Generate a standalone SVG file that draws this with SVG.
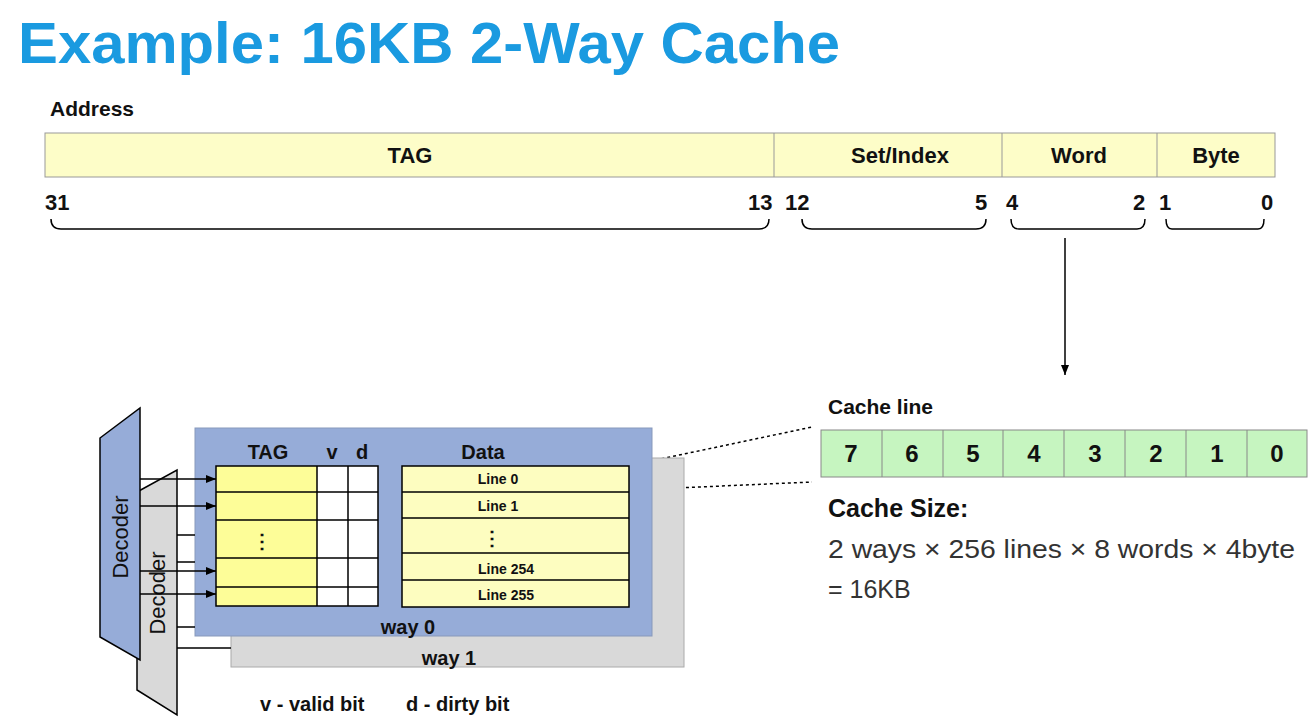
<svg xmlns="http://www.w3.org/2000/svg" width="1311" height="722" viewBox="0 0 1311 722">
<style>
text{font-family:"Liberation Sans",Arial,sans-serif;font-weight:bold;fill:#111}
.c{text-anchor:middle}
.ln{stroke:#000;stroke-width:1.5;fill:none}
.y{fill:#fdfdc8;stroke:#999;stroke-width:1}
</style>
<defs><marker id="a" viewBox="0 0 10 10" refX="10" refY="5" markerWidth="7" markerHeight="7" orient="auto"><path d="M0,1 L10,5 L0,9z" fill="#000"/></marker></defs>
<rect width="1311" height="722" fill="#fff"/>
<text x="18" y="63" font-size="58" textLength="822" lengthAdjust="spacingAndGlyphs" style="fill:#1a9ae0">Example: 16KB 2-Way Cache</text>
<g id="address">
<text x="50" y="116" font-size="21">Address</text>
<rect class="y" x="45" y="133" width="1230" height="44"/>
<path d="M774,133V177M1002,133V177M1157,133V177" stroke="#999"/>
<g font-size="22"><text class="c" x="410" y="163">TAG</text><text class="c" x="900" y="163">Set/Index</text><text class="c" x="1079" y="163">Word</text><text class="c" x="1216" y="163">Byte</text></g>
<g font-size="22"><text x="45" y="210">31</text><text x="748" y="210">13</text><text x="785" y="210">12</text><text x="975" y="210">5</text><text x="1006" y="210">4</text><text x="1133" y="210">2</text><text x="1159" y="210">1</text><text x="1261" y="210">0</text></g>
<path class="ln" stroke-width="1.2" d="M51,219q0,10 10,10H759q10,0 10,-10M802,219q0,10 10,10H976q10,0 10,-10M1011,219q0,10 8,10H1137q8,0 8,-10M1166,219q0,10 6,10H1258q6,0 6,-10"/>
</g>
<g id="connectors">
<line class="ln" x1="1065" y1="238" x2="1065" y2="375" marker-end="url(#a)"/>
<path d="M632,465L812,427M632,490L812,482" stroke="#000" stroke-width="1.5" stroke-dasharray="3,3"/>
</g>
<g id="way1"><rect x="231" y="458" width="453" height="209" fill="#d9d9d9" stroke="#aaa"/><text class="c" x="449" y="665" font-size="20">way 1</text></g>
<g id="decoder1"><polygon points="137,492 177,470 177,715 137,690" fill="#d9d9d9" stroke="#000" stroke-width="1.5"/><text transform="translate(165,593) rotate(-90)" class="c" font-size="22" style="font-weight:normal">Decoder</text></g>
<g id="way0">
<rect x="195" y="428" width="457" height="208" fill="#96acd8" stroke="#8899bb"/>
<text class="c" x="408" y="634" font-size="20">way 0</text>
<g font-size="20"><text class="c" x="268" y="459">TAG</text><text class="c" x="332" y="459">v</text><text class="c" x="362" y="459">d</text><text class="c" x="483" y="459">Data</text></g>
<rect x="216" y="466" width="101" height="140" fill="#fdfd98"/><rect x="317" y="466" width="61" height="140" fill="#fff"/>
<path class="ln" d="M216,466H378V606H216ZM317,466V606M348,466V606M216,492H378M216,520H378M216,558H378M216,587H378"/>
<text class="c" x="262" y="548" font-size="20">⋮</text>
<rect x="402" y="466" width="227" height="141" fill="#fdfdc0"/>
<path class="ln" d="M402,466H629V607H402ZM402,492H629M402,518H629M402,553H629M402,580H629"/>
<g font-size="14"><text class="c" x="498" y="484">Line 0</text><text class="c" x="498" y="511">Line 1</text><text class="c" x="492" y="545" font-size="20">⋮</text><text class="c" x="506" y="574">Line 254</text><text class="c" x="506" y="600">Line 255</text></g>
</g>
<g id="decoder0"><polygon points="100,438 140,408 140,660 100,637" fill="#96acd8" stroke="#000" stroke-width="1.5"/><text transform="translate(128,537) rotate(-90)" class="c" font-size="22" style="font-weight:normal">Decoder</text></g>
<g id="decoder-lines" stroke="#000" stroke-width="1.5">
<line x1="140" y1="479" x2="216" y2="479" marker-end="url(#a)"/><line x1="140" y1="506" x2="216" y2="506" marker-end="url(#a)"/>
<line x1="140" y1="571" x2="216" y2="571" marker-end="url(#a)"/><line x1="140" y1="594" x2="216" y2="594" marker-end="url(#a)"/>
<path d="M177,535H195M177,562H195M177,627H195M177,648H231" fill="none"/>
</g>
<g font-size="20"><text x="260" y="711">v - valid bit</text><text x="406" y="711">d - dirty bit</text></g>
<g id="cacheline">
<text x="828" y="414" font-size="21">Cache line</text>
<rect x="821" y="430" width="486" height="47" fill="#c6f5c0" stroke="#888"/>
<path d="M882,430V477M943,430V477M1003,430V477M1064,430V477M1125,430V477M1186,430V477M1247,430V477" stroke="#888"/>
<g font-size="24"><text class="c" x="851" y="462">7</text><text class="c" x="912" y="462">6</text><text class="c" x="973" y="462">5</text><text class="c" x="1034" y="462">4</text><text class="c" x="1095" y="462">3</text><text class="c" x="1156" y="462">2</text><text class="c" x="1217" y="462">1</text><text class="c" x="1277" y="462">0</text></g>
</g>
<text x="828" y="517" font-size="25">Cache Size:</text>
<text x="828" y="558" font-size="25" textLength="467" lengthAdjust="spacingAndGlyphs" style="font-weight:normal;fill:#333">2 ways × 256 lines × 8 words × 4byte</text>
<text x="828" y="598" font-size="25" style="font-weight:normal;fill:#333">= 16KB</text>
</svg>
